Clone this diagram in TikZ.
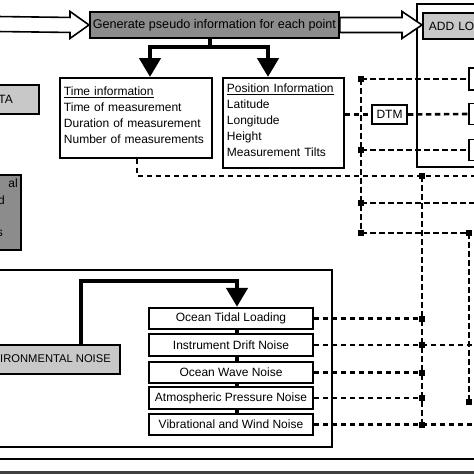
\documentclass[tikz,border=0pt]{standalone}
\usepackage{fontspec}
\setmainfont{Liberation Sans}
\usetikzlibrary{arrows.meta,calc}
\definecolor{darkg}{RGB}{140,140,140}
\definecolor{lightg}{RGB}{200,200,200}
\newcommand{\hollowArr}[3]{%
\draw[hollow] ($(#1)+(0,-7.5)$) -- ($(#2)+(-#3,-7.5)$) -- ($(#2)+(-#3,-13.5)$) -- (#2) -- ($(#2)+(-#3,13.5)$) -- ($(#2)+(-#3,7.5)$) -- ($(#1)+(0,7.5)$) -- cycle;}
\begin{document}
\begin{tikzpicture}[x=1pt,y=-1pt,
  box/.style={draw, line width=1.9pt, inner sep=0pt, fill=white},
  thk/.style={line width=4.5pt, line join=miter},
  thkarr/.style={line width=4.5pt, line join=miter, -{Triangle[width=21pt,length=19pt]}},
  dsh/.style={line width=2.6pt, dash pattern=on 5.5pt off 3.5pt},
  hollow/.style={draw, line width=1.6pt, fill=white, line join=miter},
  every node/.style={font=\fontsize{12}{16}\selectfont}
]
\useasboundingbox (0,0) rectangle (474,474);
\clip (0,0) rectangle (474,474);

% top row
\node[box, fill=darkg, minimum width=249pt, minimum height=26pt, anchor=north west, font=\fontsize{12.6}{16}\selectfont] (gen) at (89,11) {Generate pseudo information for each point};
\node[draw, line width=1.9pt, minimum width=80pt, minimum height=163pt, anchor=north west] (locbox) at (416,3) {};
\node[box, fill=lightg, anchor=north west, minimum height=26pt, text width=68pt, inner xsep=6pt, align=left] (addloc) at (422,12) {ADD LOC};
\node[box, minimum width=20pt, minimum height=22pt, anchor=west] (r1) at (468,79) {};
\node[box, minimum width=20pt, minimum height=21pt, anchor=west] (r2) at (468,114) {};
\node[box, minimum width=20pt, minimum height=21pt, anchor=west] (r3) at (468,150) {};

\coordinate (lin) at (-3,24);
\coordinate (tipR) at (addloc.west |- gen.east);
\hollowArr{lin}{gen.west}{19}
\hollowArr{gen.east}{tipR}{20}

% info boxes
\node[box, anchor=north west, minimum height=80pt, text width=144pt, inner xsep=4pt, align=left] (time) at (59,77)
  {\underline{Time information}\\Time of measurement\\Duration of measurement\\Number of measurements\rule[-6pt]{0pt}{6pt}};
\node[box, anchor=north west, minimum height=90pt, text width=113pt, inner xsep=4pt, align=left] (pos) at (222,77)
  {\underline{Position Information}\\Latitude\\Longitude\\Height\\Measurement Tilts\rule[-6pt]{0pt}{6pt}};
\node[box, minimum width=35pt, minimum height=19pt] (dtm) at (389.5,114.5) {DTM};

\coordinate (gs) at (210,47);
\coordinate (ta) at (150,47);
\coordinate (pa) at (268,47);
\draw[thk] (gen.south -| gs) -- (gs);
\draw[thkarr] (gs) -| (time.north -| ta);
\draw[thkarr] (gs) -| (pos.north -| pa);

% left boxes
\node[box, fill=lightg, anchor=north west, minimum width=45pt, minimum height=29pt] (tabox) at (-7,84) {};
\node[anchor=east, inner sep=0pt] (tatext) at (13,99) {TA};
\node[box, fill=darkg, anchor=north west, minimum width=27pt, minimum height=75pt] (leftbox) at (-7,174) {};
\node[anchor=base east, inner sep=0pt] (la) at (18,187) {al};
\node[anchor=base east, inner sep=0pt] (lb) at (5,204) {d};
\node[anchor=base east, inner sep=0pt] (lc) at (3,236) {s};

% environmental section
\node[draw, line width=1.9pt, anchor=north west, minimum width=336pt, minimum height=177pt] (envbox) at (-5,269) {};
\node[box, fill=lightg, anchor=north west, minimum width=126pt, minimum height=29pt] (envn) at (-7,344) {};
\node[anchor=east, inner sep=0pt, font=\fontsize{11.2}{14}\selectfont] (envt) at (111,358.5) {IRONMENTAL NOISE};

\node[box, minimum width=164pt, minimum height=21.5pt] (n1) at (231,318.5) {Ocean Tidal Loading};
\node[box, minimum width=164pt, minimum height=21.5pt] (n2) at (231,345) {Instrument Drift Noise};
\node[box, minimum width=164pt, minimum height=21.5pt] (n3) at (231,372.5) {Ocean Wave Noise};
\node[box, minimum width=164pt, minimum height=21.5pt] (n4) at (231,398) {Atmospheric Pressure Noise};
\node[box, minimum width=164pt, minimum height=21.5pt] (n5) at (231,424.5) {Vibrational and Wind Noise};

\coordinate (colx) at (237,0);
\coordinate (ea) at (81,281);
\draw[thkarr] (envn.north -| ea) -- (ea) -| (n1.north -| colx);
\draw[line width=3.5pt] (n1.south -| colx) -- (n2.north -| colx);
\draw[line width=3.5pt] (n2.south -| colx) -- (n3.north -| colx);
\draw[line width=3.5pt] (n3.south -| colx) -- (n4.north -| colx);
\draw[line width=3.5pt] (n4.south -| colx) -- (n5.north -| colx);

% dashed connectors
\coordinate (vx1) at (361,0);
\coordinate (j1) at (vx1 |- r1.west);
\coordinate (j2) at (vx1 |- r3.west);
\coordinate (j3) at (361,203);
\coordinate (j4) at (361,233);
\coordinate (j5) at (469,233);
\coordinate (j6) at (469,402);
\coordinate (tx) at (137,176);
\coordinate (vx2) at (422,176);
\coordinate (ex) at (476,0);
\draw[dsh] (pos.east |- dtm.west) -- (dtm.west);
\draw[dsh] (dtm.east) -- (r2.west);
\draw[dsh] (j1) -- (r1.west);
\draw[dsh] (j2) -- (r3.west);
\draw[dsh] (j1) -- (j4);
\draw[dsh] (j3) -- (ex |- j3);
\draw[dsh] (time.south -| tx) -- (tx) -- (ex |- tx);
\draw[dsh] (j4) -- (j5) -- (j6);
\draw[dsh] (vx2) -- (vx2 |- n5.east);
\draw[dsh] (n1.east) -- (vx2 |- n1.east);
\draw[dsh] (n2.east) -- (ex |- n2.east);
\draw[dsh] (n3.east) -- (vx2 |- n3.east);
\draw[dsh] (n4.east) -- (vx2 |- n4.east);
\draw[dsh] (n5.east) -- (ex |- n5.east);
\foreach \p in {j1,j2,j3,j4,j5,j6,vx2}
  \fill (\p) +(-3,-3) rectangle +(3,3);
\foreach \p in {n1,n2,n3,n4,n5}
  \fill (vx2 |- \p.east) +(-3,-3) rectangle +(3,3);

% bottom edge
\draw[line width=1.5pt] (-5,459) -- (480,459);
\fill[black!75] (-5,471) rectangle (480,476);
\end{tikzpicture}
\end{document}
